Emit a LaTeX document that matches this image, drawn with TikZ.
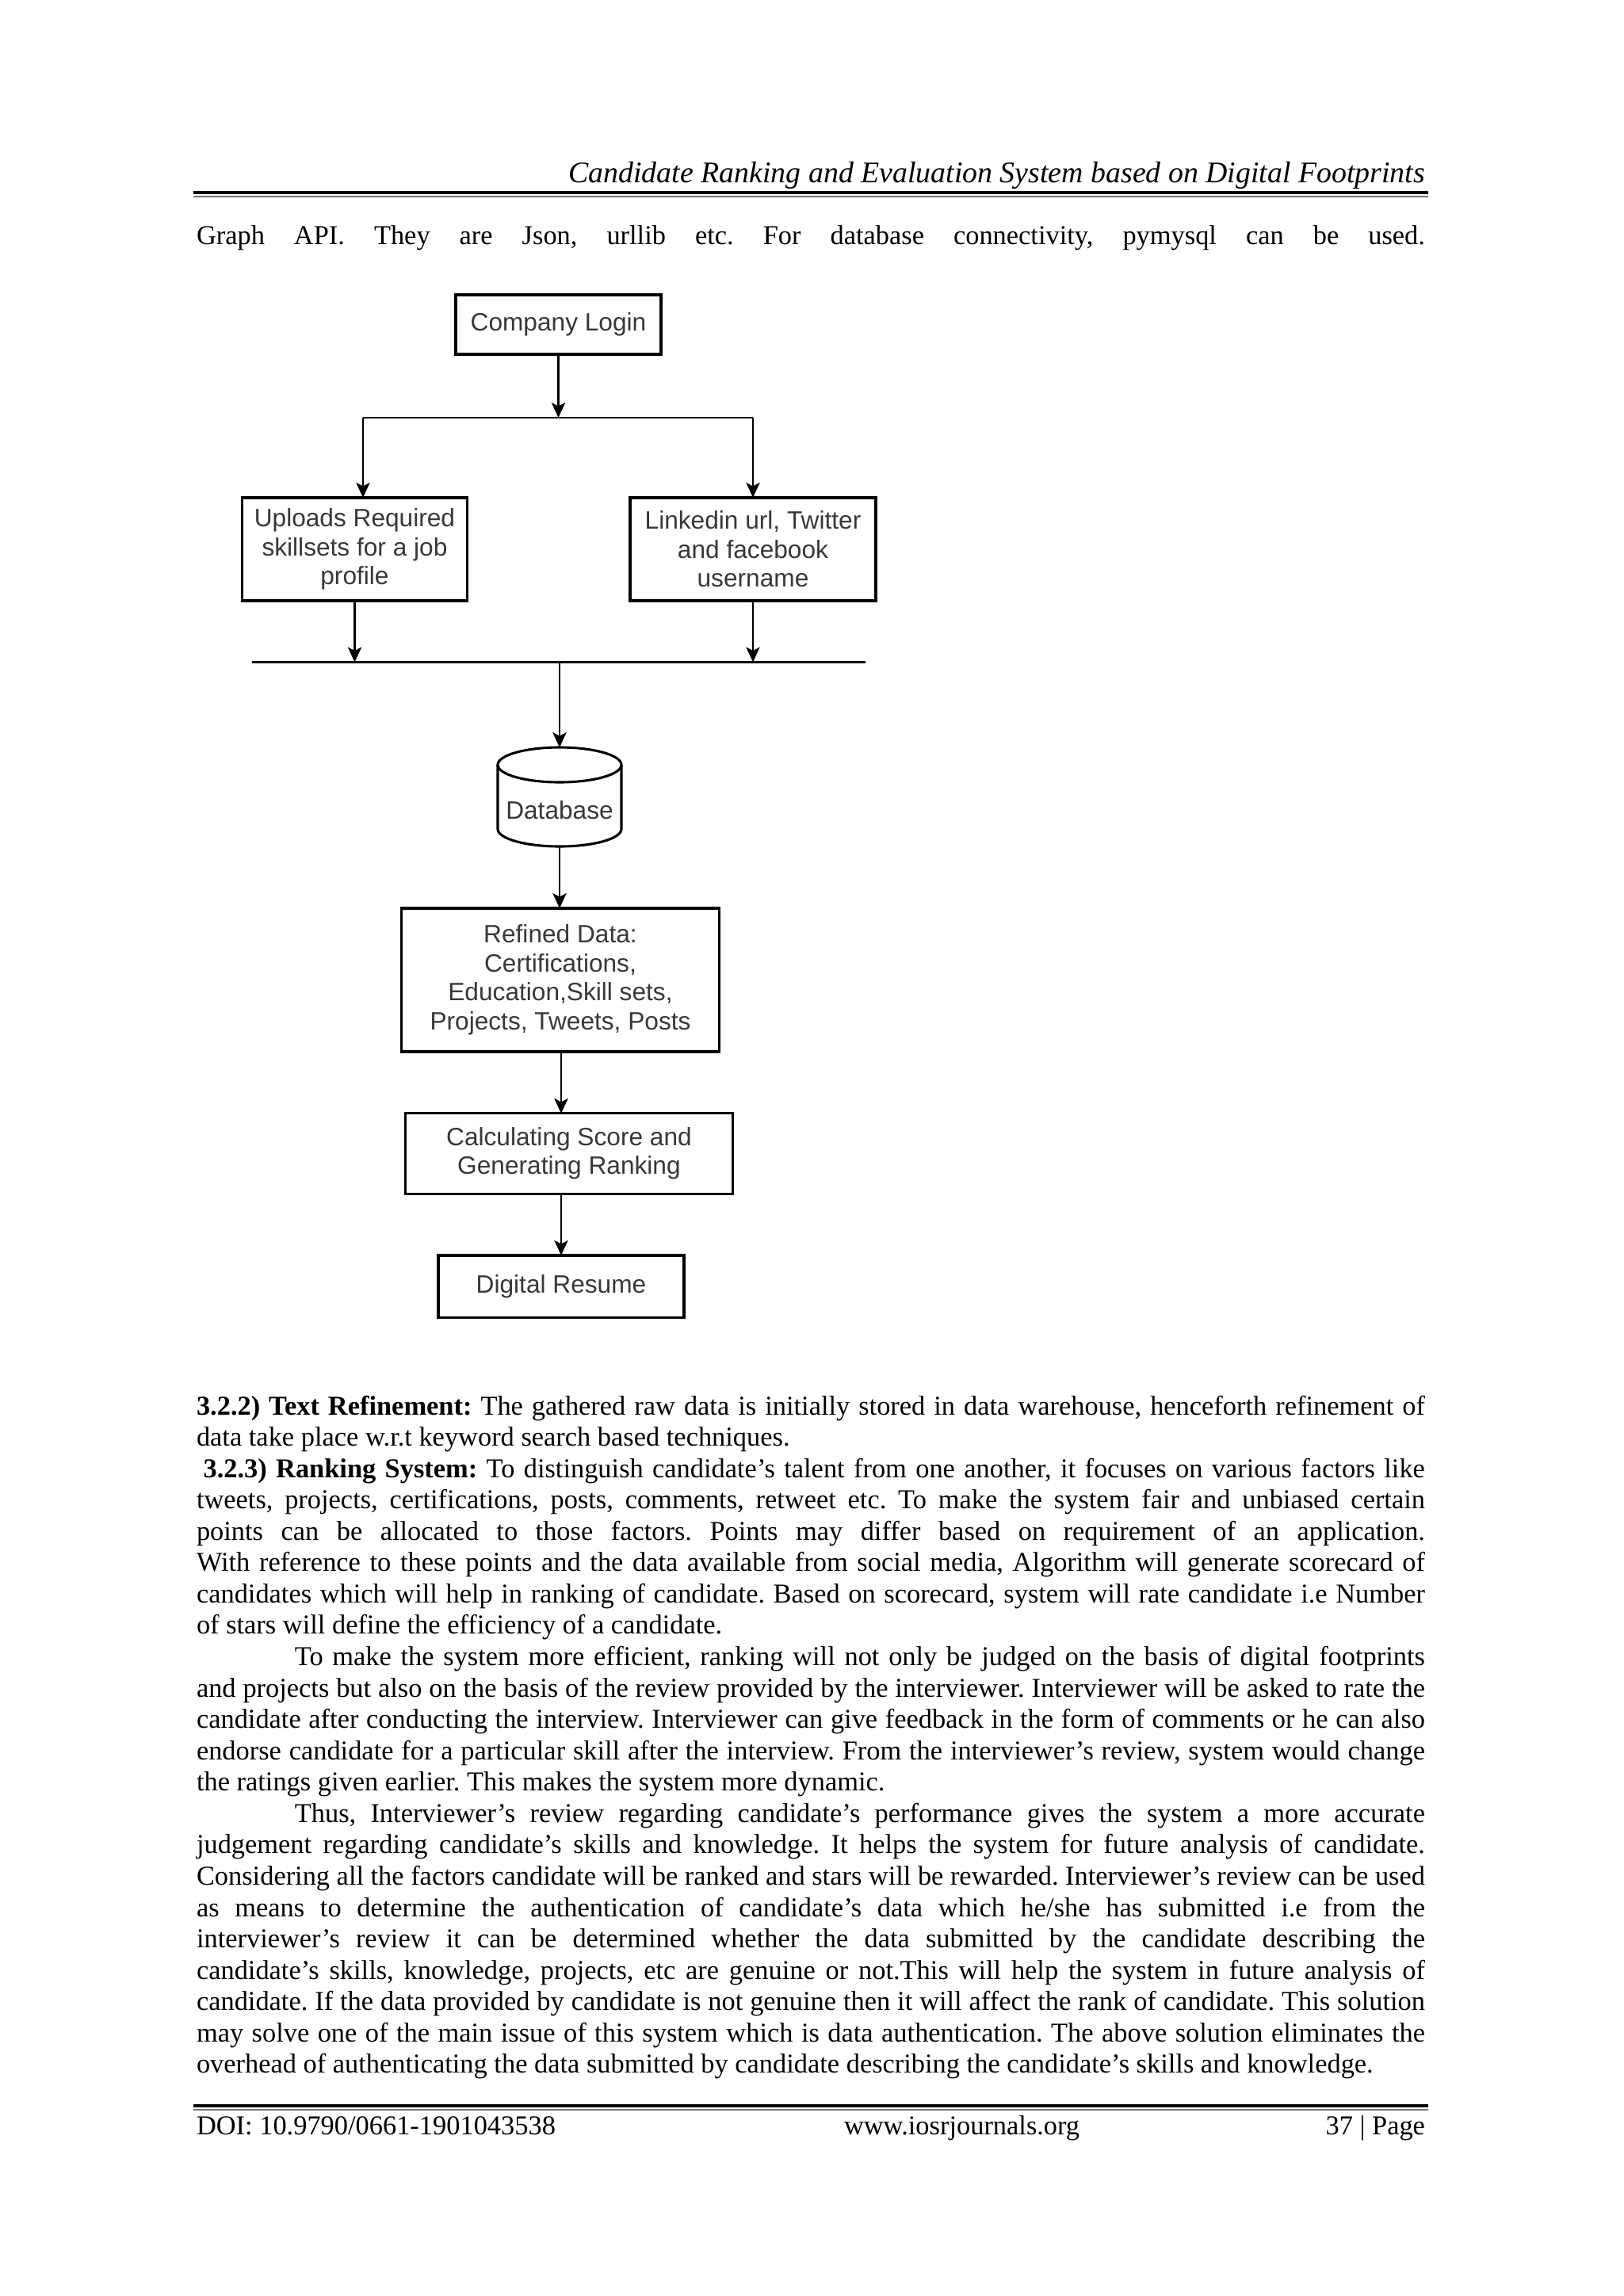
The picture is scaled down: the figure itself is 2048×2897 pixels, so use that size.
\documentclass[tikz,border=0pt]{standalone}
\usepackage{fontspec}
\setmainfont{Liberation Serif}
\newfontfamily\diasans{Liberation Sans}
\usetikzlibrary{arrows.meta,calc}
\newcommand\jline[1]{\makebox[450.5pt][s]{#1}}
\begin{document}
\frenchspacing
\begin{tikzpicture}[x=0.29067pt,y=-0.29067pt,
  every node/.style={inner sep=0pt, outer sep=0pt},
  bodyline/.style={anchor=base west, font=\fontsize{10}{11.5}\selectfont},
  flowbox/.style={draw=black, line width=0.9pt, align=center,
    font=\diasans\fontsize{9.2}{10.6}\selectfont, text=black!78},
  flowtext/.style={align=center, font=\diasans\fontsize{9.2}{10.6}\selectfont, text=black!78},
  conn/.style={draw=black, line width=0.75pt},
  arr/.style={conn, -{Stealth[length=5.5pt,width=5pt,inset=1.3pt]}}
]
\useasboundingbox[fill=white] (0,0) rectangle (2048,2897);

% ---------- header ----------
\node[anchor=base east, font=\fontsize{11}{13}\selectfont\itshape] (hdr) at (1798,230)
  {Candidate Ranking and Evaluation System based on Digital Footprints};
\coordinate (hrL) at (244,243);
\coordinate (hrR) at (1802,243);
\draw[line width=1pt] (hrL) -- (hrR);
\draw[line width=0.4pt, black!55] ($(hrL)+(0,5)$) -- ($(hrR)+(0,5)$);

\node[bodyline] (g0) at (248,308)
  {\jline{Graph API. They are Json, urllib etc. For database connectivity, pymysql can be used.}};

% ---------- flowchart ----------
\node[flowbox, minimum width=75.3pt, minimum height=21.8pt] (login) at (704.5,409.5) {Company Login};
\node[flowbox, minimum width=82.8pt, minimum height=37.8pt] (upl) at (447.5,693)
  {Uploads Required\\skillsets for a job\\profile};
\node[flowbox, minimum width=90.1pt, minimum height=37.8pt] (lnk) at (950,693)
  {Linkedin url, Twitter\\and facebook\\username};

\coordinate (jn) at (704.5,527);
\coordinate (jL) at (458,527);
\coordinate (jR) at (950,527);
\draw[arr] (login.south) -- (jn);
\draw[conn] (jL) -- (jR);
\draw[arr] (jL) -- (jL |- upl.north);
\draw[arr] (jR) -- (jR |- lnk.north);

\coordinate (busL) at (318,835.5);
\coordinate (busR) at (1092,835.5);
\coordinate (busM) at (706,835.5);
\draw[conn] (busL) -- (busR);
\draw[arr] (upl.south) -- (upl.south |- busL);
\draw[arr] (lnk.south) -- (lnk.south |- busL);

% database cylinder
\node[minimum width=45.3pt, minimum height=36.3pt] (db) at (706,1005.5) {};
\draw[line width=0.9pt] (706,965) ellipse [x radius=78, y radius=22];
\draw[line width=0.9pt] (628,965) -- (628,1046) arc[start angle=180, end angle=0, x radius=78, y radius=22] -- (784,965);
\node[flowtext] (dbtxt) at (706,1022) {Database};
\draw[arr] (busM) -- (db.north);

\node[flowbox, minimum width=116.6pt, minimum height=52.6pt] (ref) at (707,1236.5)
  {Refined Data:\\Certifications,\\Education,Skill sets,\\Projects, Tweets, Posts};
\node[flowbox, minimum width=119.8pt, minimum height=29.4pt] (calc) at (718,1455.5)
  {Calculating Score and\\Generating Ranking};
\node[flowbox, minimum width=90.1pt, minimum height=22.7pt] (res) at (708,1623) {Digital Resume};

\draw[arr] (db.south) -- (db.south |- ref.north);
\draw[arr] (708,1327) coordinate (a1) -- (a1 |- calc.north);
\draw[arr] (calc.south -| res.north) -- (res.north);

% ---------- body text ----------
\node[bodyline] (l1) at (248,1785.0) {\jline{\textbf{3.2.2) Text Refinement:} The gathered raw data is initially stored in data warehouse, henceforth refinement of}};
\node[bodyline] (l2) at (248,1824.6) {data take place w.r.t keyword search based techniques.};
\node[bodyline] (l3) at (248,1864.1) {\jline{\hspace*{2.5pt}\textbf{3.2.3) Ranking System:} To distinguish candidate’s talent from one another, it focuses on various factors like}};
\node[bodyline] (l4) at (248,1903.7) {\jline{tweets, projects, certifications, posts, comments, retweet etc. To make the system fair and unbiased certain}};
\node[bodyline] (l5) at (248,1943.2) {\jline{points can be allocated to those factors. Points may differ based on requirement of an application.}};
\node[bodyline] (l6) at (248,1982.8) {\jline{With reference to these points and the data available from social media, Algorithm will generate scorecard of}};
\node[bodyline] (l7) at (248,2022.4) {\jline{candidates which will help in ranking of candidate. Based on scorecard, system will rate candidate i.e Number}};
\node[bodyline] (l8) at (248,2061.9) {of stars will define the efficiency of a candidate.};
\node[bodyline] (l9) at (248,2101.5) {\jline{\hspace*{36pt}To make the system more efficient, ranking will not only be judged on the basis of digital footprints}};
\node[bodyline] (l10) at (248,2141.0) {\jline{and projects but also on the basis of the review provided by the interviewer. Interviewer will be asked to rate the}};
\node[bodyline] (l11) at (248,2180.6) {\jline{candidate after conducting the interview. Interviewer can give feedback in the form of comments or he can also}};
\node[bodyline] (l12) at (248,2220.2) {\jline{endorse candidate for a particular skill after the interview. From the interviewer’s review, system would change}};
\node[bodyline] (l13) at (248,2259.7) {the ratings given earlier. This makes the system more dynamic.};
\node[bodyline] (l14) at (248,2299.3) {\jline{\hspace*{36pt}Thus, Interviewer’s review regarding candidate’s performance gives the system a more accurate}};
\node[bodyline] (l15) at (248,2338.8) {\jline{judgement regarding candidate’s skills and knowledge. It helps the system for future analysis of candidate.}};
\node[bodyline] (l16) at (248,2378.4) {\jline{Considering all the factors candidate will be ranked and stars will be rewarded. Interviewer’s review can be used}};
\node[bodyline] (l17) at (248,2418.0) {\jline{as means to determine the authentication of candidate’s data which he/she has submitted i.e from the}};
\node[bodyline] (l18) at (248,2457.5) {\jline{interviewer’s review it can be determined whether the data submitted by the candidate describing the}};
\node[bodyline] (l19) at (248,2497.1) {\jline{candidate’s skills, knowledge, projects, etc are genuine or not.This will help the system in future analysis of}};
\node[bodyline] (l20) at (248,2536.6) {\jline{candidate. If the data provided by candidate is not genuine then it will affect the rank of candidate. This solution}};
\node[bodyline] (l21) at (248,2576.2) {\jline{may solve one of the main issue of this system which is data authentication. The above solution eliminates the}};
\node[bodyline] (l22) at (248,2615.8) {overhead of authenticating the data submitted by candidate describing the candidate’s skills and knowledge.};

% ---------- footer ----------
\coordinate (frL) at (244,2657);
\coordinate (frR) at (1802,2657);
\draw[line width=1pt] (frL) -- (frR);
\draw[line width=0.4pt, black!55] ($(frL)+(0,5)$) -- ($(frR)+(0,5)$);
\node[bodyline] (doi) at (248,2693) {DOI: 10.9790/0661-1901043538};
\node[bodyline] (web) at (1065,2693) {www.iosrjournals.org};
\node[anchor=base east, font=\fontsize{10}{11.5}\selectfont] (pg) at (1798,2693) {37 | Page};
\end{tikzpicture}
\end{document}
